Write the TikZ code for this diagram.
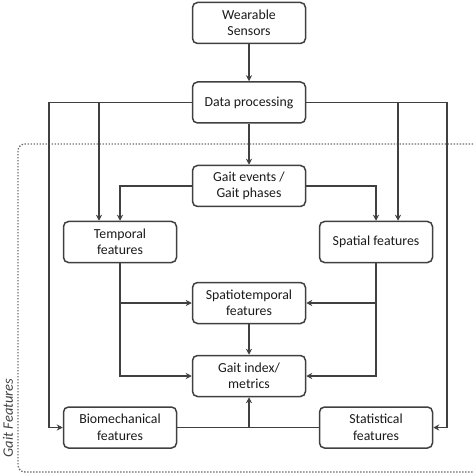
\documentclass[tikz,border=0pt]{standalone}
\usepackage{fontspec}
\setmainfont{Carlito}
\usetikzlibrary{arrows.meta}
\definecolor{ln}{HTML}{404040}
\definecolor{tx}{HTML}{1A1A1A}
\definecolor{dt}{HTML}{6E6E6E}
\tikzset{
  box/.style={draw=ln, line width=1.5bp, rounded corners=5bp, minimum width=113bp, minimum height=41bp,
    align=center, text=tx, font=\fontsize{13.8bp}{16.5bp}\selectfont, inner sep=2bp},
  arr/.style={draw=ln, line width=1.5bp, -{Stealth[length=6bp,width=6bp]}},
  ln/.style={draw=ln, line width=1.5bp}
}
\begin{document}
\begin{tikzpicture}[x=1bp,y=-1bp]
\useasboundingbox (0,0) rectangle (474,474);
\draw[dt, line width=1.4bp, dash pattern=on 1.4bp off 1.6bp, rounded corners=7bp] (476,144) -- (18,144) -- (18,472) -- (476,472);
\node[text=dt!60!black, rotate=90, font=\fontsize{14.5bp}{16bp}\selectfont\itshape] (gf) at (8,418) {Gait Features};

\node[box] (ws) at (249,23) {Wearable\\Sensors};
\node[box] (dp) at (249,102.5) {Data processing};
\node[box] (ge) at (249,186) {Gait events /\\Gait phases};
\node[box] (tf) at (120,242) {Temporal\\features};
\node[box] (sf) at (376,242) {Spatial features};
\node[box] (st) at (249,303) {Spatiotemporal\\features};
\node[box] (gi) at (249,376) {Gait index/\\metrics};
\node[box] (bf) at (120,427.5) {Biomechanical\\features};
\node[box] (sa) at (376,427.5) {Statistical\\features};

\coordinate (l1) at (49,102.5);
\coordinate (l2) at (99,102.5);
\coordinate (r1) at (447,102.5);
\coordinate (r2) at (398,102.5);
\coordinate (mb) at (249,427.5);

\draw[arr] (ws) -- (dp);
\draw[arr] (dp) -- (ge);
\draw[arr] (dp.west) -- (l1) |- (bf.west);
\draw[arr] (l2) -- (l2 |- tf.north);
\draw[arr] (dp.east) -- (r1) |- (sa.east);
\draw[arr] (r2) -- (r2 |- sf.north);
\draw[arr] (ge.west) -| (tf.north);
\draw[arr] (ge.east) -| (sf.north);
\draw[arr] (tf.south) |- (gi.west);
\draw[arr] (tf.south |- st.west) -- (st.west);
\draw[arr] (sf.south) |- (gi.east);
\draw[arr] (sf.south |- st.east) -- (st.east);
\draw[arr] (st) -- (gi);
\draw[ln] (bf.east) -- (sa.west);
\draw[arr] (mb) -- (gi.south);
\end{tikzpicture}
\end{document}
